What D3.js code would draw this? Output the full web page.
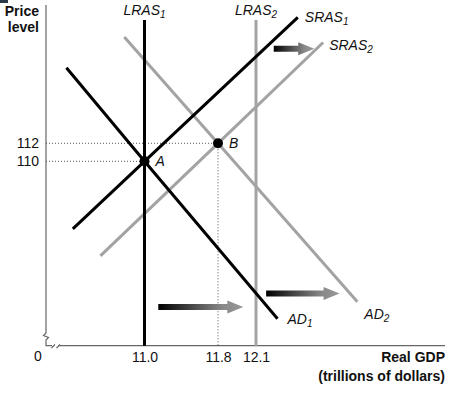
<!DOCTYPE html>
<html>
<head>
<meta charset="utf-8">
<script src="https://cdn.jsdelivr.net/npm/d3@7"></script>
<style>
  body { margin: 0; background: #fff; }
  svg { display: block; font-family: "Liberation Sans", Arial, sans-serif; }
  .lbl { font-size: 14px; font-style: italic; fill: #111; }
  .axis text { font-size: 14px; fill: #111; font-family: "Liberation Sans", Arial, sans-serif; }
</style>
</head>
<body>
<svg id="chart"></svg>
<script>
// Tick values
const xTicks = [11.0, 11.8, 12.1];
const yTicks = [110, 112];

// Equilibrium points
const pointNames = ['A', 'B'];
const pointGDP = [11.0, 11.8];
const pointPrice = [110, 112];

// Curves (real GDP, price level)
const lras1 = [[11.0, 125.7], [11.0, 89.5]];
const lras2 = [[12.1, 125.7], [12.1, 89.5]];
const sras1 = [[10.22, 102.5], [11.0, 110], [12.43, 126.0]];
const sras2 = [[10.52, 99.5], [11.8, 112], [12.63, 123.2]];
const ad1 = [[10.15, 120.4], [11.0, 110], [12.27, 92.5]];
const ad2 = [[10.78, 123.8], [11.8, 112], [12.90, 94.4]];

// Shift arrows: [from GDP, to GDP, price level]
const shiftArrows = [
  [12.24, 12.56, 122.5],
  [11.15, 12.00, 93.8],
  [12.18, 12.76, 95.3]
];

const width = 464, height = 400;
const axisX = 46, axisY = 345.7, axisTop = 5, axisRight = 445;

const svg = d3.select('#chart')
  .attr('width', width)
  .attr('height', height);

// the schematic x axis is not evenly spaced, so use a piecewise scale
const x = d3.scaleLinear()
  .domain([11.0, 11.8, 12.1])
  .range([144.5, 218, 256]);

const y = d3.scaleLinear()
  .domain([110, 112])
  .range([161.3, 143.3]);

// small artefact at the top-left corner
svg.append('rect').attr('x', 0).attr('y', 0).attr('width', 8).attr('height', 3).attr('fill', '#2b3a4a');

// gradient for the shift arrows
const grad = svg.append('defs').append('linearGradient')
  .attr('id', 'arrowGrad')
  .attr('x1', '0%').attr('x2', '100%').attr('y1', '0%').attr('y2', '0%');
grad.append('stop').attr('offset', '0%').attr('stop-color', '#000');
grad.append('stop').attr('offset', '75%').attr('stop-color', '#888');
grad.append('stop').attr('offset', '100%').attr('stop-color', '#999');

// axes lines with break marks
const axisColor = '#666';
svg.append('path')
  .attr('d', `M${axisX},${axisTop} V333 L43.5,335.5 L48.5,337.5 L46,340 V${axisY} H52`)
  .attr('fill', 'none').attr('stroke', axisColor).attr('stroke-width', 1.2);
svg.append('path')
  .attr('d', `M51.5,348 L55,344.5 M56.5,348 L60,344.5 M58,${axisY} H${axisRight}`)
  .attr('fill', 'none').attr('stroke', axisColor).attr('stroke-width', 1.2);

// tick labels via d3 axes
const xAxisG = svg.append('g')
  .attr('class', 'axis')
  .attr('transform', `translate(0,${axisY})`)
  .call(d3.axisBottom(x).tickValues(xTicks).tickSize(0).tickPadding(6).tickFormat(d3.format('.1f')));
xAxisG.select('.domain').remove();

const yAxisG = svg.append('g')
  .attr('class', 'axis')
  .attr('transform', `translate(${axisX},0)`)
  .call(d3.axisLeft(y).tickValues(yTicks).tickSize(0).tickPadding(7).tickFormat(d3.format('d')));
yAxisG.select('.domain').remove();

svg.append('text').attr('x', 38).attr('y', 361).attr('text-anchor', 'middle')
  .attr('font-size', 14).attr('fill', '#111').text('0');

// axis titles
const bold = (t, xx, yy) => svg.append('text')
  .attr('x', xx).attr('y', yy).attr('text-anchor', 'end')
  .attr('font-size', 14).attr('font-weight', 'bold').attr('fill', '#111').text(t);
bold('Price', 39, 16);
bold('level', 39, 32);
bold('Real GDP', axisRight, 362);
bold('(trillions of dollars)', axisRight, 381);

// dotted guide lines
const guides = svg.append('g')
  .attr('stroke', '#555').attr('stroke-width', 1).attr('stroke-dasharray', '1,2').attr('fill', 'none');
pointNames.forEach((n, i) => {
  guides.append('line')
    .attr('x1', axisX).attr('x2', x(pointGDP[i]))
    .attr('y1', y(pointPrice[i])).attr('y2', y(pointPrice[i]));
});
guides.append('line')
  .attr('x1', x(pointGDP[1])).attr('x2', x(pointGDP[1]))
  .attr('y1', y(pointPrice[1])).attr('y2', axisY);

// curves
const line = d3.line().x(d => x(d[0])).y(d => y(d[1]));
const curves = [
  { data: ad2, color: '#a3a3a3' },
  { data: sras2, color: '#a3a3a3' },
  { data: lras2, color: '#a3a3a3' },
  { data: ad1, color: '#000' },
  { data: sras1, color: '#000' },
  { data: lras1, color: '#000' }
];
svg.append('g').selectAll('path')
  .data(curves)
  .join('path')
  .attr('d', d => line(d.data))
  .attr('fill', 'none')
  .attr('stroke', d => d.color)
  .attr('stroke-width', 3);

// shift arrows
const arrowPath = d => {
  const x0 = x(d[0]), x1 = x(d[1]), yy = y(d[2]);
  const hl = 16, hw = 6.5, sw = 3;
  return `M${x0},${yy - sw} H${x1 - hl} V${yy - hw} L${x1},${yy} L${x1 - hl},${yy + hw} V${yy + sw} H${x0} Z`;
};
svg.append('g').selectAll('path')
  .data(shiftArrows)
  .join('path')
  .attr('d', arrowPath)
  .attr('fill', 'url(#arrowGrad)');

// points
svg.append('g').selectAll('circle')
  .data(pointNames)
  .join('circle')
  .attr('cx', (d, i) => x(pointGDP[i]))
  .attr('cy', (d, i) => y(pointPrice[i]))
  .attr('r', 5)
  .attr('fill', '#000');

svg.append('g').selectAll('text')
  .data(pointNames)
  .join('text')
  .attr('class', 'lbl')
  .attr('x', (d, i) => x(pointGDP[i]) + 11)
  .attr('y', (d, i) => y(pointPrice[i]) + 5)
  .text(d => d);

// curve labels
const curveLabel = (base, sub, pt, dx, dy, anchor) => {
  const t = svg.append('text')
    .attr('class', 'lbl')
    .attr('x', x(pt[0]) + dx)
    .attr('y', y(pt[1]) + dy)
    .attr('text-anchor', anchor || 'start');
  t.append('tspan').text(base);
  t.append('tspan').attr('font-size', 10).attr('dy', 3).text(sub);
};
curveLabel('LRAS', '1', lras1[0], 0, -5, 'middle');
curveLabel('LRAS', '2', lras2[0], 0, -5, 'middle');
curveLabel('SRAS', '1', sras1[2], 7, 5);
curveLabel('SRAS', '2', sras2[2], 6, 7);
curveLabel('AD', '1', ad1[2], 10, 5);
curveLabel('AD', '2', ad2[2], 7, 17);
</script>
</body>
</html>
